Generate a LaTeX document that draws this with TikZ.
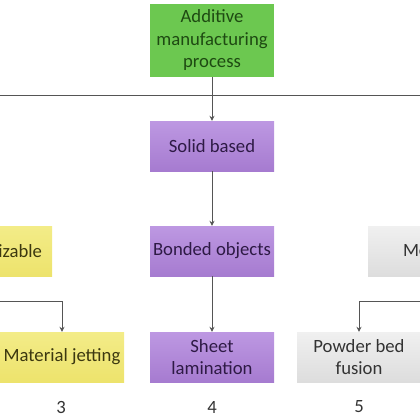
\documentclass[tikz,border=0pt]{standalone}
\usepackage{fontspec}
\setmainfont{Carlito}
\usetikzlibrary{arrows.meta}
\definecolor{grn}{HTML}{6CC850}
\definecolor{grntxt}{HTML}{1E4A12}
\definecolor{purtop}{HTML}{BD98E2}
\definecolor{purbot}{HTML}{A67BD0}
\definecolor{purtxt}{HTML}{2E1A45}
\definecolor{yeltop}{HTML}{F3EC88}
\definecolor{yelbot}{HTML}{EDE36C}
\definecolor{yeltxt}{HTML}{3C3810}
\definecolor{grytop}{HTML}{F0F0F0}
\definecolor{grybot}{HTML}{DDDDDD}
\definecolor{linegray}{HTML}{555555}
\tikzset{
  box/.style={minimum width=124pt,minimum height=50pt,inner sep=0pt,align=center,
    font=\fontsize{18.7}{22.5}\selectfont},
  greenbox/.style={box,fill=grn,text=grntxt,minimum height=73pt},
  purplebox/.style={box,top color=purtop,bottom color=purbot,text=purtxt},
  yellowbox/.style={box,top color=yeltop,bottom color=yelbot,text=yeltxt},
  graybox/.style={box,top color=grytop,bottom color=grybot,text=black!80},
  conn/.style={draw=linegray,line width=0.8pt},
  arr/.style={conn,-{Stealth[length=5pt,width=5pt]}},
  num/.style={font=\fontsize{18.7}{22.5}\selectfont,text=black!80}
}
\begin{document}
\begin{tikzpicture}[x=1pt,y=-1pt]
\useasboundingbox (0,0) rectangle (420,420);
\clip (0,0) rectangle (420,420);
\node[greenbox] (ampro) at (212,40.5) {Additive\\manufacturing\\process};
\node[purplebox] (solid) at (212,146) {Solid based};
\node[purplebox] (bonded) at (212,251) {Bonded objects};
\node[purplebox] (sheet) at (212,357) {Sheet\\lamination};
\node[yellowbox,text width=104pt,inner xsep=10pt,align=right] (polym) at (-10,251) {izable};
\node[yellowbox] (mjet) at (62,357) {Material jetting};
\node[graybox,text width=54pt,inner xsep=35pt,align=left] (metal) at (430,251) {Me};
\node[graybox] (pbf) at (359,357) {Powder bed\\fusion};
\node[num] (n3) at (61,407) {3};
\node[num] (n4) at (212,407) {4};
\node[num] (n5) at (359,407) {5};
\coordinate (busL) at (0,95);
\coordinate (busR) at (420,95);
\coordinate (yelL) at (0,301);
\coordinate (gryR) at (420,301);
\draw[conn] (busL) -- (busR);
\draw[arr] (ampro.south) -- (solid.north);
\draw[arr] (solid.south) -- (bonded.north);
\draw[arr] (bonded.south) -- (sheet.north);
\draw[arr] (yelL) -| (mjet.north);
\draw[arr] (gryR) -| (pbf.north);
\end{tikzpicture}
\end{document}
